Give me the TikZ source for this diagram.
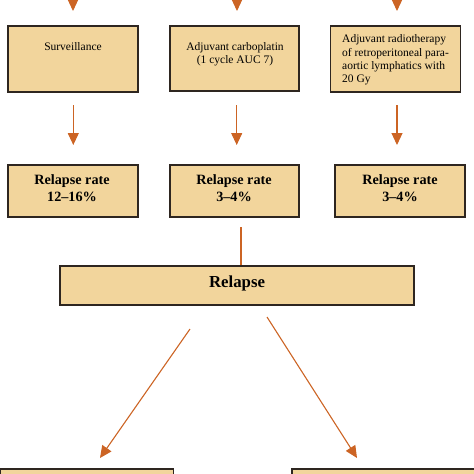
\documentclass[tikz,border=0pt]{standalone}
\usepackage{fontspec}
\setmainfont{Liberation Serif}
\usetikzlibrary{arrows.meta}
\definecolor{boxfill}{HTML}{F2D59C}
\definecolor{boxline}{HTML}{2E2620}
\definecolor{arr}{HTML}{CC6424}
\tikzset{
  box/.style={draw=boxline, fill=boxfill, line width=1.5pt, rectangle, inner sep=0pt},
  txt/.style={inner sep=0pt, font=\fontsize{11.5}{13.4}\selectfont, align=center},
  btxt/.style={inner sep=0pt, font=\fontsize{14.2}{16.5}\selectfont\bfseries, align=center},
  arrow/.style={draw=arr, line width=1.1pt, -{Triangle[length=12pt,width=11pt]}},
  plain/.style={draw=arr, line width=1.1pt}
}
\begin{document}
\begin{tikzpicture}[x=1pt,y=-1pt]
\useasboundingbox (0,0) rectangle (474,474);
% top row boxes
\node[box, minimum width=130pt, minimum height=66pt] (b1) at (73,59) {};
\node[box, minimum width=129pt, minimum height=65pt] (b2) at (234.5,58.5) {};
\node[box, minimum width=130pt, minimum height=66pt] (b3) at (395.5,59) {};
\node[txt] (t1) at (73,47) {Surveillance};
\node[txt] (t2) at (235,54.5) {Adjuvant carboplatin\\(1 cycle AUC 7)};
\node[txt, align=left, anchor=west] (t3) at (342,60) {Adjuvant radiotherapy\\of retroperitoneal para-\\aortic lymphatics with\\20 Gy};
% top incoming arrows
\coordinate (i1) at (73,-2);
\coordinate (i2) at (237,-2);
\coordinate (i3) at (397,-2);
\coordinate (j1) at (73,11);
\coordinate (j2) at (237,11);
\coordinate (j3) at (397,11);
\draw[arrow] (i1) -- (j1);
\draw[arrow] (i2) -- (j2);
\draw[arrow] (i3) -- (j3);
% relapse rate boxes
\node[box, minimum width=130pt, minimum height=52pt] (r1) at (73,191) {};
\node[box, minimum width=129pt, minimum height=52pt] (r2) at (234.5,191) {};
\node[box, minimum width=130pt, minimum height=52pt] (r3) at (400,191) {};
\node[btxt] (rt1) at (72,188) {Relapse rate\\12--16\%};
\node[btxt] (rt2) at (234,188) {Relapse rate\\3--4\%};
\node[btxt] (rt3) at (400,188) {Relapse rate\\3--4\%};
% arrows between rows
\coordinate (a1) at (73.3,105);
\coordinate (a2) at (236.7,105);
\coordinate (a3) at (397,105);
\coordinate (c1) at (73.3,145);
\coordinate (c2) at (236.7,145);
\coordinate (c3) at (397,145);
\draw[arrow] (a1) -- (c1);
\draw[arrow] (a2) -- (c2);
\draw[arrow] (a3) -- (c3);
% relapse box
\node[box, minimum width=354pt, minimum height=39pt] (rel) at (237,285.5) {};
\node[btxt, font=\fontsize{16.8}{19}\selectfont\bfseries] (relt) at (237,283) {Relapse};
\coordinate (m1) at (241,227);
\draw[plain] (m1) -- (m1 |- rel.north);
% bottom arrows
\coordinate (d1) at (190,329);
\coordinate (e1) at (100,458);
\coordinate (d2) at (267,317);
\coordinate (e2) at (357,458);
\draw[arrow] (d1) -- (e1);
\draw[arrow] (d2) -- (e2);
% bottom boxes (cut off)
\node[box, minimum width=173pt, minimum height=40pt] (f1) at (87,489) {};
\node[box, minimum width=184pt, minimum height=40pt] (f2) at (384,489) {};
\end{tikzpicture}
\end{document}
